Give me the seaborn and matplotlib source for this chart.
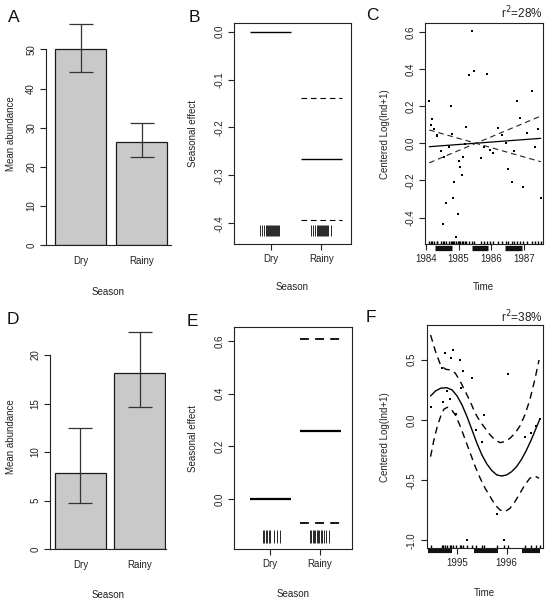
import numpy as np
import matplotlib
matplotlib.use("Agg")
import matplotlib.pyplot as plt
import seaborn as sns

# ---- data ----
seasons = ["Dry", "Rainy"]

# A / D: mean abundance with error bars (lower, upper end)
a_mean = [50.0, 26.4]
a_low = [44.2, 22.4]
a_high = [56.6, 31.2]
d_mean = [7.8, 18.1]
d_low = [4.7, 14.6]
d_high = [12.5, 22.4]

# B / E: seasonal effect (fit, lower, upper) - Dry is the reference level
b_fit = [0.0, -0.266]
b_low = [np.nan, -0.393]
b_high = [np.nan, -0.139]
e_fit = [0.0, 0.257]
e_low = [np.nan, -0.089]
e_high = [np.nan, 0.607]

# jittered rug offsets per season
b_rug_dry = [-0.21, -0.17, -0.13, -0.10, -0.08, -0.06, -0.04, -0.02, 0.0, 0.02,
             0.04, 0.06, 0.08, 0.10, 0.12, 0.15, 0.17]
b_rug_rainy = [-0.20, -0.16, -0.12, -0.08, -0.06, -0.04, -0.02, 0.0, 0.02, 0.04,
               0.06, 0.08, 0.10, 0.12, 0.14, 0.19]
e_rug_dry = [-0.146, -0.12, -0.09, -0.06, -0.03, -0.005, 0.086, 0.134, 0.2]
e_rug_rainy = [-0.2, -0.174, -0.146, -0.12, -0.094, -0.066, -0.04, -0.014,
               0.014, 0.04, 0.08, 0.12, 0.174]

# C: residual points and linear trend
c_years = [1984.10, 1984.17, 1984.14, 1984.25, 1984.33, 1984.35, 1984.45, 1984.56,
           1984.61, 1984.53, 1984.76, 1984.79, 1984.71, 1984.82, 1984.87, 1984.91,
           1984.97, 1985.00, 1985.05, 1985.09, 1985.13, 1985.22, 1985.31, 1985.40,
           1985.48, 1985.20, 1985.70, 1985.79, 1985.88, 1985.97, 1986.05, 1986.22,
           1986.32, 1986.45, 1986.53, 1986.63, 1986.71, 1986.79, 1986.87, 1986.97,
           1987.09, 1987.24, 1987.35, 1987.43, 1987.52]
c_vals = [0.228, 0.129, 0.099, 0.079, 0.039, 0.045, -0.042, -0.074,
          -0.324, -0.437, 0.203, 0.050, -0.022, -0.293, -0.209, -0.503,
          -0.383, -0.094, -0.126, -0.173, -0.072, 0.090, 0.368, 0.605,
          0.391, -0.004, -0.078, -0.022, 0.372, -0.036, -0.054, 0.084,
          0.045, 0.003, -0.137, -0.209, -0.042, 0.230, 0.138, -0.234,
          0.057, 0.282, -0.018, 0.077, -0.293]
c_line_x = [1984.10, 1987.52]
c_fit = [-0.018, 0.027]
c_band1 = [0.072, -0.099]
c_band2 = [-0.105, 0.147]
c_rainy_start = [1984.28, 1985.40, 1986.42]
c_rainy_end = [1984.81, 1985.91, 1986.94]

# F: residual points and smooth trend with band
f_years = [1994.49, 1994.70, 1994.77, 1994.72, 1994.80, 1994.87, 1994.89, 1994.93,
           1994.99, 1995.06, 1995.09, 1995.13, 1995.31, 1995.21, 1995.38, 1995.50,
           1995.54, 1995.81, 1995.95, 1996.02, 1996.36, 1996.49, 1996.59, 1996.67]
f_vals = [0.110, 0.434, 0.559, 0.147, 0.241, 0.174, 0.512, 0.581,
          0.050, 0.498, 0.268, 0.407, 0.351, -1.0, -0.083, -0.180,
          0.041, -0.783, -1.0, 0.379, -0.138, -0.105, -0.050, 0.006]
f_fit_x = [1994.478, 1994.577, 1994.677, 1994.796, 1994.909, 1995.008, 1995.107,
           1995.206, 1995.306, 1995.405, 1995.504, 1995.603, 1995.702, 1995.802,
           1995.901, 1996.000, 1996.099, 1996.198, 1996.298, 1996.397, 1996.496,
           1996.595, 1996.661]
f_fit = [0.199, 0.241, 0.263, 0.268, 0.249, 0.199, 0.124, 0.028, -0.083, -0.194,
         -0.290, -0.365, -0.420, -0.456, -0.465, -0.456, -0.429, -0.387, -0.326,
         -0.249, -0.160, -0.061, 0.006]
f_up_x = [1994.478, 1994.577, 1994.677, 1994.776, 1994.875, 1994.974, 1995.074,
          1995.173, 1995.272, 1995.371, 1995.470, 1995.569, 1995.669, 1995.768,
          1995.867, 1995.966, 1996.065, 1996.165, 1996.264, 1996.363, 1996.462,
          1996.561, 1996.647]
f_up = [0.705, 0.567, 0.456, 0.421, 0.415, 0.387, 0.318, 0.235, 0.152, 0.055,
        -0.014, -0.069, -0.124, -0.166, -0.188, -0.180, -0.152, -0.111, -0.050,
        0.041, 0.166, 0.332, 0.498]
f_lo_x = [1994.478, 1994.544, 1994.611, 1994.677, 1994.743, 1994.810, 1994.875,
          1994.974, 1995.074, 1995.173, 1995.272, 1995.371, 1995.470, 1995.569,
          1995.669, 1995.768, 1995.867, 1995.966, 1996.065, 1996.165, 1996.264,
          1996.363, 1996.462, 1996.561, 1996.647]
f_lo = [-0.304, -0.166, -0.055, 0.028, 0.089, 0.105, 0.097, 0.041, -0.055, -0.166,
        -0.277, -0.387, -0.484, -0.567, -0.636, -0.705, -0.747, -0.761, -0.733,
        -0.678, -0.609, -0.539, -0.484, -0.465, -0.484]
f_rainy_start = [1994.43, 1995.35, 1996.31]
f_rainy_end = [1994.91, 1995.83, 1996.67]

# ---- style ----
sns.set_style("ticks")
plt.rcParams["font.family"] = ["Liberation Sans", "DejaVu Sans"]
plt.rcParams["axes.unicode_minus"] = False
plt.rcParams["axes.linewidth"] = 0.8
plt.rcParams["axes.edgecolor"] = "#222222"

W, H = 547, 604
fig = plt.figure(figsize=(W / 100, H / 100), dpi=100)


def make_ax(l, r, t, b):
    return fig.add_axes([l / W, 1 - b / H, (r - l) / W, (b - t) / H])


def style_ticks(ax):
    ax.tick_params(axis="both", labelsize=7, length=4, width=0.8, pad=3,
                   colors="#222222")
    ax.tick_params(axis="y", labelrotation=90)
    for lab in ax.get_yticklabels():
        lab.set_va("center")


def set_labels(ax, xlab, ylab, xl_y, yl_x):
    ax.set_xlabel(xlab, fontsize=7, color="#222222")
    ax.set_ylabel(ylab, fontsize=7, color="#222222")
    ax.xaxis.set_label_coords(0.5, xl_y)
    ax.yaxis.set_label_coords(yl_x, 0.5)
    ax.xaxis.label.set_va("center")
    ax.yaxis.label.set_va("center")


def bar_panel(ax, mean, low, high, width, ylim, yticks, xlim):
    sns.barplot(x=seasons, y=mean, color="#c9c9c9", edgecolor="#1a1a1a",
                linewidth=0.9, width=width, errorbar=None, ax=ax, saturation=1)
    pos = np.arange(len(seasons))
    err = [np.array(mean) - np.array(low), np.array(high) - np.array(mean)]
    ax.errorbar(pos, mean, yerr=err, fmt="none", ecolor="#333333",
                elinewidth=0.9, capsize=8.6, capthick=0.9)
    ax.set_xlim(*xlim)
    ax.set_ylim(*ylim)
    ax.set_yticks(yticks)
    sns.despine(ax=ax)
    ax.spines["left"].set_bounds(yticks[0], yticks[-1])
    style_ticks(ax)
    ax.tick_params(axis="x", length=0, pad=8)


def effect_panel(ax, fit, low, high, rug_dry, rug_rainy, rug_lo, rug_hi, lw,
                 ylim, yticks, xlim):
    pos = np.arange(len(seasons))
    ax.hlines(fit, pos - 0.41, pos + 0.41, color="k", lw=lw)
    ax.hlines(low, pos - 0.41, pos + 0.41, color="k", lw=lw * 0.8,
              linestyles=(0, (5, 3.5)))
    ax.hlines(high, pos - 0.41, pos + 0.41, color="k", lw=lw * 0.8,
              linestyles=(0, (5, 3.5)))
    ax.vlines(np.array(rug_dry) + pos[0], rug_lo, rug_hi, color="k", lw=0.7,
              alpha=0.85)
    ax.vlines(np.array(rug_rainy) + pos[1], rug_lo, rug_hi, color="k", lw=0.7,
              alpha=0.85)
    ax.set_xticks(pos)
    ax.set_xticklabels(seasons)
    ax.set_xlim(*xlim)
    ax.set_ylim(*ylim)
    ax.set_yticks(yticks)
    ax.set_yticklabels([f"{v:.1f}" for v in yticks])
    style_ticks(ax)


def trend_panel(ax, xs, ys, rs, re, y_block, block_lw, xlim, ylim, yticks, xticks,
                r2, r2_y):
    sns.rugplot(x=xs, height=0.016, color="k", lw=0.7, ax=ax, clip_on=False)
    sns.scatterplot(x=xs, y=ys, marker="s", s=4, color="k", linewidth=0, ax=ax)
    ax.hlines([y_block] * len(rs), rs, re, transform=ax.get_xaxis_transform(),
              color="#111111", lw=block_lw, clip_on=False)
    ax.set_xlim(*xlim)
    ax.set_ylim(*ylim)
    ax.set_yticks(yticks)
    ax.set_yticklabels([f"{v:.1f}" for v in yticks])
    ax.set_xticks(xticks)
    style_ticks(ax)
    ax.text(1.0, r2_y, r2, transform=ax.transAxes, ha="right", va="center",
            fontsize=8.5, color="#222222")


# A
ax = make_ax(46, 171, 22, 245)
bar_panel(ax, a_mean, a_low, a_high, 0.833, (0, 57), [0, 10, 20, 30, 40, 50],
          (-0.564, 1.479))
set_labels(ax, "Season", "Mean abundance", -0.209, -0.282)

# D
ax = make_ax(50, 166, 325, 549)
bar_panel(ax, d_mean, d_low, d_high, 0.86, (0, 23.1), [0, 5, 10, 15, 20],
          (-0.515, 1.444))
set_labels(ax, "Season", "Mean abundance", -0.205, -0.339)

# B
ax = make_ax(234, 350.7, 23.3, 244.3)
effect_panel(ax, b_fit, b_low, b_high, b_rug_dry, b_rug_rainy, -0.427, -0.404,
             1.0, (-0.444, 0.0175), [0.0, -0.1, -0.2, -0.3, -0.4],
             (-0.725, 1.581))
set_labels(ax, "Season", "Seasonal effect", -0.192, -0.349)

# E
ax = make_ax(234, 351.7, 327.3, 549.3)
effect_panel(ax, e_fit, e_low, e_high, e_rug_dry, e_rug_rainy, -0.164, -0.115,
             1.6, (-0.189, 0.651), [0.0, 0.2, 0.4, 0.6], (-0.72, 1.634))
set_labels(ax, "Season", "Seasonal effect", -0.201, -0.346)

# C
ax = make_ax(425, 542.7, 23.3, 244.3)
trend_panel(ax, c_years, c_vals, c_rainy_start, c_rainy_end, -0.0145, 3.8,
            (1983.97, 1987.58), (-0.544, 0.647), [-0.4, -0.2, 0.0, 0.2, 0.4, 0.6],
            [1984, 1985, 1986, 1987], r"r$^2$=28%", 1.045)
sns.lineplot(x=c_line_x, y=c_fit, color="k", lw=0.9, ax=ax)
sns.lineplot(x=c_line_x, y=c_band1, color="#222222", lw=0.8,
             linestyle=(0, (5, 3.5)), ax=ax)
sns.lineplot(x=c_line_x, y=c_band2, color="#222222", lw=0.8,
             linestyle=(0, (5, 3.5)), ax=ax)
set_labels(ax, "Time", "Centered Log(Ind+1)", -0.192, -0.34)

# F
ax = make_ax(426.7, 542.7, 325, 548.3)
trend_panel(ax, f_years, f_vals, f_rainy_start, f_rainy_end, -0.0134, 3.0,
            (1994.40, 1996.72), (-1.065, 0.788), [-1.0, -0.5, 0.0, 0.5],
            [1995, 1996], r"r$^2$=38%", 1.037)
sns.lineplot(x=f_fit_x, y=f_fit, color="k", lw=1.0, ax=ax)
sns.lineplot(x=f_up_x, y=f_up, color="k", lw=1.0, linestyle=(0, (5, 3.5)), ax=ax)
sns.lineplot(x=f_lo_x, y=f_lo, color="k", lw=1.0, linestyle=(0, (5, 3.5)), ax=ax)
set_labels(ax, "Time", "Centered Log(Ind+1)", -0.2015, -0.359)

# panel letters
letters = ["A", "B", "C", "D", "E", "F"]
letter_pos = [(13.3, 17.5), (194.5, 17), (372.5, 16),
              (12.5, 320), (192.5, 321.5), (371, 318)]
for letter, (px, py) in zip(letters, letter_pos):
    fig.text(px / W, 1 - py / H, letter, fontsize=12.5, ha="center", va="center",
             color="#111111")

fig.savefig("out.png", dpi=100)
